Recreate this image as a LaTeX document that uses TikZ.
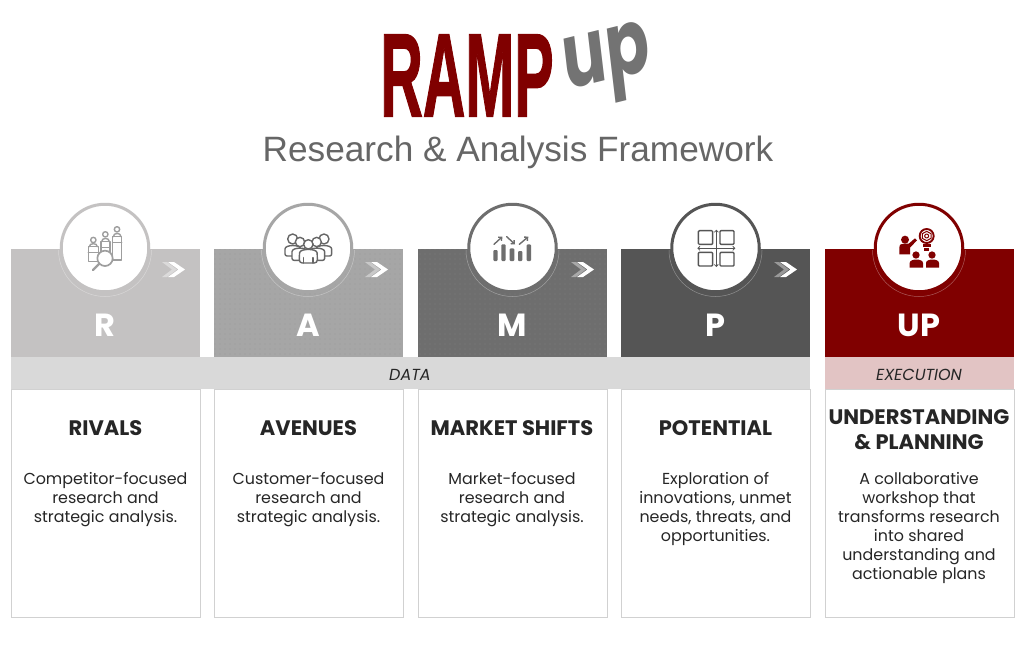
\documentclass[tikz,border=0pt]{standalone}
\usepackage{fontspec}
\usetikzlibrary{arrows.meta,patterns.meta}
\setmainfont{Poppins}
\newfontfamily\subfont{Liberation Sans}
\newfontfamily\rampfont[BoldFeatures={FakeBold=1.4}]{Liberation Sans}
\definecolor{cR}{HTML}{C4C2C2}
\definecolor{cA}{HTML}{A6A6A6}
\definecolor{cM}{HTML}{6E6E6E}
\definecolor{cP}{HTML}{555555}
\definecolor{cU}{HTML}{800000}
\definecolor{ink}{HTML}{262626}
\tikzset{
  headbox/.style={minimum width=189pt,minimum height=108pt,inner sep=0,outer sep=0,anchor=north west},
  card/.style={draw=black!18,line width=.8pt,fill=white,minimum width=188.5pt,minimum height=228pt,inner sep=0,anchor=north west},
  ring/.style={circle,fill=white,line width=3pt,minimum size=87.5pt,inner sep=0},
  halo/.style={draw=white,draw opacity=.35,line width=.5pt},
  letter/.style={text=white,font=\fontsize{32}{36}\selectfont\bfseries},
  heading/.style={text=ink,align=center,font=\fontsize{21}{25}\selectfont\bfseries},
  body/.style={text=ink,align=center,anchor=north,font=\fontsize{15.9}{19}\selectfont},
  bandtext/.style={text=ink,font=\fontsize{16}{18}\selectfont\itshape},
  ic/.style={line width=1.4pt,line join=round,line cap=round},
  chevback/.style={fill=white,fill opacity=.4},
  chevfront/.style={fill=white},
  stipple/.style={pattern={Dots[distance=5pt,radius=.35pt]}},
}
\newcommand{\chevrons}[1]{%
  \fill[chevback] (#1+162,262) -- (#1+167,262) -- (#1+177,269.5) -- (#1+167,277) -- (#1+162,277) -- (#1+172,269.5) -- cycle;
  \fill[chevfront] (#1+168,262) -- (#1+174,262) -- (#1+185,269.5) -- (#1+174,277) -- (#1+168,277) -- (#1+178.5,269.5) -- cycle;
}
\begin{document}
\begin{tikzpicture}[x=1pt,y=-1pt]
\useasboundingbox (0,0) rectangle (1024,649);
\fill[white] (0,0) rectangle (1024,649);

% Title
\node[inner sep=0] (ramp) at (467,75.5) {\scalebox{.535}[1.08]{\rampfont\fontsize{110}{110}\selectfont\bfseries\textcolor{cU}{RAMP}}};
\node[rotate=14,inner sep=0] (up) at (609,66) {\scalebox{1.05}[1.45]{\fontsize{62}{64}\selectfont\bfseries\itshape\textcolor{black!55}{up}}};
\node (subtitle) at (518,152) {\subfont\fontsize{35.2}{40}\selectfont\textcolor{black!60}{Research \& Analysis Framework}};

% Cards
\node[card] (cardR) at (11,389) {};
\node[card] (cardA) at (214,389) {};
\node[card] (cardM) at (418,389) {};
\node[card] (cardP) at (621,389) {};
\node[card] (cardU) at (825,389) {};

% Coloured heads
\node[headbox,fill=cR] (headR) at (11,249) {};
\node[headbox,fill=cA] (headA) at (214,249) {};
\node[headbox,fill=cM] (headM) at (418,249) {};
\node[headbox,fill=cP] (headP) at (621,249) {};
\node[headbox,fill=cU] (headU) at (825,249) {};
\fill[stipple,pattern color=black!45] (214,249) rectangle (403,357);
\fill[stipple,pattern color=black!40] (418,249) rectangle (607,357);

% Bands
\node[fill=black!15,minimum width=799pt,minimum height=32pt,inner sep=0,anchor=north west] (bandD) at (11,357) {};
\node[fill=cU!23,minimum width=189pt,minimum height=32pt,inner sep=0,anchor=north west] (bandE) at (825,357) {};
\node[bandtext] (dataT) at (410,374.5) {DATA};
\node[bandtext] (execT) at (919,374.5) {EXECUTION};

% Circles
\node[ring,draw=cR] (ringR) at (105,248) {};
\node[ring,draw=cA] (ringA) at (308,248) {};
\node[ring,draw=cM] (ringM) at (512.5,248) {};
\node[ring,draw=cP] (ringP) at (715.5,248) {};
\node[ring,draw=cU] (ringU) at (919,248) {};
\foreach \cx in {105,308,512.5,715.5,919}{
  \draw[halo] (\cx+46.5,250) arc[start angle=0,end angle=180,radius=46.5];
}

% Chevrons
\chevrons{0}
\chevrons{203}
\chevrons{409}
\chevrons{612}

% Letters
\node[letter] (lR) at (105,325) {R};
\node[letter] (lA) at (308.5,325) {A};
\node[letter] (lM) at (512.5,325) {M};
\node[letter] (lP) at (715.5,325) {P};
\node[letter] (lU) at (919,325) {UP};

% Headings
\node[heading] (hR) at (105.5,428) {RIVALS};
\node[heading] (hA) at (308.5,428) {AVENUES};
\node[heading] (hM) at (512,428) {MARKET SHIFTS};
\node[heading] (hP) at (715.5,428) {POTENTIAL};
\node[heading] (hU) at (919,430) {UNDERSTANDING\\\& PLANNING};

% Body
\node[body] (bR) at (105.5,469) {Competitor-focused\\research and\\strategic analysis.};
\node[body] (bA) at (308.5,469) {Customer-focused\\research and\\strategic analysis.};
\node[body] (bM) at (512,469) {Market-focused\\research and\\strategic analysis.};
\node[body] (bP) at (715.5,469) {Exploration of\\innovations, unmet\\needs, threats, and\\opportunities.};
\node[body] (bU) at (919,469) {A collaborative\\workshop that\\transforms research\\into shared\\understanding and\\actionable plans};

% Icon R
\begin{scope}[shift={(0,195)},scale=1/3,ic,draw=black!38]
  \draw (265,200) rectangle (295,155);
  \draw (303,200) rectangle (330,140);
  \draw (338,195) rectangle (365,125);
  \draw (265,172) -- (295,172);
  \draw (303,158) -- (330,158);
  \draw (338,143) -- (365,143);
  \draw (268,155) .. controls (268,143) and (292,143) .. (292,155);
  \draw (280,135) circle (8);
  \draw (305,140) .. controls (305,127) and (328,127) .. (328,140);
  \draw (316,118) circle (8);
  \draw (340,125) .. controls (340,112) and (363,112) .. (363,125);
  \draw (351,103) circle (8);
  \draw[fill=white,line width=1.7pt] (315,190) circle (23);
  \draw[line width=2.4pt] (297,207) -- (279,225);
\end{scope}

% Icon A
\begin{scope}[shift={(210,195)},scale=1/3,ic,draw=black!60]
  \foreach \hx/\bx in {248/225,342/318}{
    \draw[fill=white,rounded corners=2pt] (\bx,183) -- (\bx,168) .. controls (\bx,148) and (\bx+47,148) .. (\bx+47,168) -- (\bx+47,183) -- cycle;
    \draw[fill=white] (\hx,132) circle (15);
  }
  \foreach \hx/\bx in {270/246,320/297}{
    \draw[fill=white,rounded corners=2pt] (\bx,196) -- (\bx,176) .. controls (\bx,156) and (\bx+47,156) .. (\bx+47,176) -- (\bx+47,196) -- cycle;
    \draw[fill=white] (\hx,141) circle (14);
  }
  \draw[fill=white,rounded corners=3pt] (268,204) -- (268,182) .. controls (270,160) and (320,160) .. (322,182) -- (322,204) -- cycle;
  \draw[fill=white] (295,148) circle (14);
  \draw (281,204) -- (281,188);
  \draw (309,204) -- (309,188);
\end{scope}

% Icon M
\begin{scope}[shift={(415,195)},scale=1/3,ic,draw=cM,fill=cM]
  \fill[rounded corners=1pt] (235,165) rectangle (248,198);
  \fill[rounded corners=1pt] (259,148) rectangle (272,198);
  \fill[rounded corners=1pt] (284,160) rectangle (298,198);
  \fill[rounded corners=1pt] (309,168) rectangle (322,198);
  \fill[rounded corners=1pt] (335,148) rectangle (348,198);
  \draw[-{Straight Barb[length=2.5pt,width=5pt]}] (237,148) -- (262,125);
  \draw[-{Straight Barb[length=2.5pt,width=5pt]}] (275,125) -- (300,148);
  \draw[-{Straight Barb[length=2.5pt,width=5pt]}] (313,148) -- (340,125);
\end{scope}

% Icon P
\begin{scope}[shift={(615,195)},scale=1/3,ic,draw=cP,rounded corners=1pt]
  \draw (250,107) rectangle (293,148);
  \draw (315,107) rectangle (357,148);
  \draw (250,172) rectangle (293,213);
  \draw (315,172) rectangle (357,213);
  \draw[line width=.8pt,{Straight Barb[length=2pt,width=4pt]}-{Straight Barb[length=2pt,width=4pt]}] (304,104) -- (304,216);
  \draw[line width=.8pt,{Straight Barb[length=2pt,width=4pt]}-{Straight Barb[length=2pt,width=4pt]}] (247,160) -- (361,160);
\end{scope}

% Icon UP
\begin{scope}[shift={(814,195)},scale=1/3,ic,draw=cU,fill=cU]
  \fill (273,134) circle (12);
  \fill (256,178) -- (256,158) .. controls (256,148) and (262,146) .. (270,146) -- (284,146) -- (303,130) -- (309,136) -- (288,158) -- (288,178) -- cycle;
  \fill (306,180) circle (11);
  \fill (354,180) circle (11);
  \fill (287,218) -- (287,204) .. controls (287,190) and (327,190) .. (327,204) -- (327,218) -- cycle;
  \fill (336,218) -- (336,204) .. controls (336,190) and (375,190) .. (375,204) -- (375,218) -- cycle;
  \draw[line width=1.9pt,fill=white] (338,123) circle (21);
  \draw[line width=1pt] (338,109) -- (351,116) -- (351,130) -- (338,137) -- (325,130) -- (325,116) -- cycle;
  \draw[line width=1pt] (338,123) circle (6);
  \fill (326,147) rectangle (350,156);
  \fill (331,159) rectangle (345,167);
\end{scope}
\end{tikzpicture}
\end{document}
